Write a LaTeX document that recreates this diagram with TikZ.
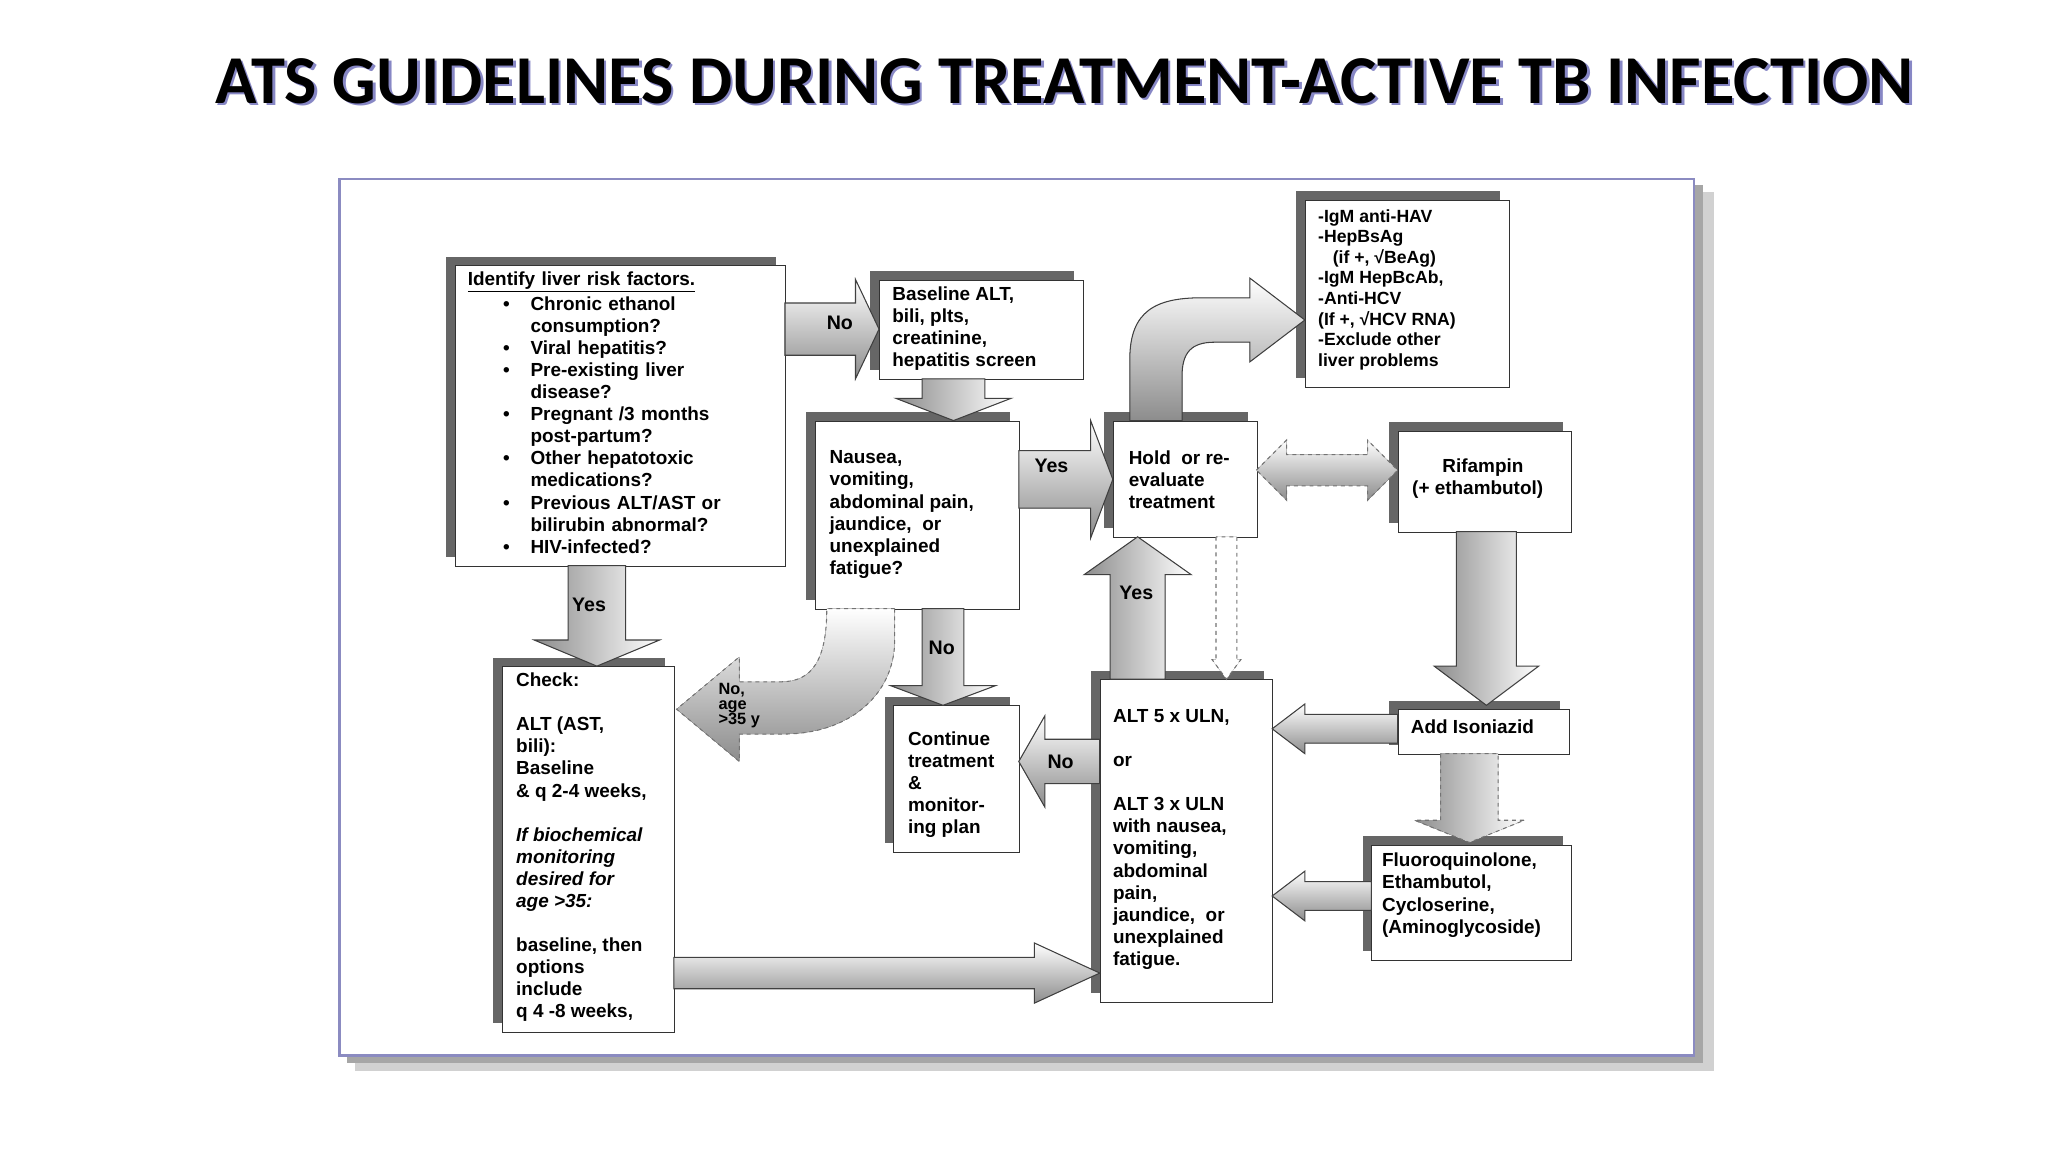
\documentclass[tikz,border=0pt]{standalone}
\usepackage{fontspec}
\setmainfont{Liberation Sans}
\newfontfamily\titlefont{Carlito}
\usetikzlibrary{shadows}
\begin{document}
\begin{tikzpicture}[x=1pt,y=-1pt,
  box/.style={draw=black!80,line width=0.8pt,fill=white,anchor=north west,inner sep=0pt,
    general shadow={fill=black!60,shadow xshift=-7pt,shadow yshift=7pt}},
  txt/.style={anchor=north west,inner sep=0pt,align=left,font=\fontsize{14.5}{16.9}\selectfont\bfseries},
  lab/.style={font=\fontsize{15}{16}\selectfont\bfseries},
  blkv/.style={draw=black!75,line width=0.8pt,left color=black!45,right color=white},
  blkh/.style={draw=black!75,line width=0.8pt,top color=white,bottom color=black!45},
  dsh/.style={dashed,draw=black!55}]
\newcommand\RA[7][]{\filldraw[blkh,#1] (#2,{#4-#5}) -- ({#3-#7},{#4-#5}) -- ({#3-#7},{#4-#6}) -- (#3,#4) -- ({#3-#7},{#4+#6}) -- ({#3-#7},{#4+#5}) -- (#2,{#4+#5}) -- cycle;}
\newcommand\DA[7][]{\filldraw[blkv,#1] ({#4-#5},#2) -- ({#4-#5},{#3-#7}) -- ({#4-#6},{#3-#7}) -- (#4,#3) -- ({#4+#6},{#3-#7}) -- ({#4+#5},{#3-#7}) -- ({#4+#5},#2) -- cycle;}
\useasboundingbox (0,0) rectangle (1568,882);
\fill[white] (0,0) rectangle (1568,882);
% title
\node[text=blue!35!gray!70] (titlesh) at (817,64) {\resizebox{1300pt}{!}{\titlefont\bfseries ATS GUIDELINES DURING TREATMENT-ACTIVE TB INFECTION}};
\node (title) at (815,62) {\resizebox{1300pt}{!}{\titlefont\bfseries ATS GUIDELINES DURING TREATMENT-ACTIVE TB INFECTION}};
% frame
\fill[black!18] (272,147) rectangle (1312,820);
\fill[black!35] (266,142) rectangle (1304,814);
\filldraw[fill=white,draw=blue!30!gray!70,line width=2pt] (260,137) rectangle (1297,808);
% boxes
\node[box,minimum width=253,minimum height=230] (risk) at (348,203) {};
\node[box,minimum width=156,minimum height=76] (base) at (673,214) {};
\node[box,minimum width=156,minimum height=144] (naus) at (624,322) {};
\node[box,minimum width=110,minimum height=89] (hold) at (852,322) {};
\node[box,minimum width=156,minimum height=143] (sero) at (999,153) {};
\node[box,minimum width=133,minimum height=77] (rif) at (1070,330) {};
\node[box,minimum width=132,minimum height=280] (check) at (384,510) {};
\node[box,minimum width=96,minimum height=112] (cont) at (684,540) {};
\node[box,minimum width=132,minimum height=247] (alt) at (842,520) {};
\node[box,minimum width=131,minimum height=34] (iso) at (1070,543) {};
\node[box,minimum width=153,minimum height=88] (fluo) at (1050,647) {};
% texts
\node[txt,text width=240pt] (risk-t) at (358,208) {\underline{Identify liver risk factors.}\\[-2pt]
\begin{list}{\textbullet}{\leftmargin=48pt\labelsep=16pt\itemsep=0pt\parsep=0pt\topsep=0pt}
\item Chronic ethanol\\consumption?
\item Viral hepatitis?
\item Pre-existing liver\\disease?
\item Pregnant /3 months\\post-partum?
\item Other hepatotoxic\\medications?
\item Previous ALT/AST or\\bilirubin abnormal?
\item HIV-infected?
\end{list}};
\node[txt] (base-t) at (683,219) {Baseline ALT,\\bili, plts,\\creatinine,\\hepatitis screen};
\node[txt] (naus-t) at (635,345) {Nausea,\\vomiting,\\abdominal pain,\\jaundice,\ \ or\\unexplained\\fatigue?};
\node[txt] (hold-t) at (864,345) {Hold\ \ or re-\\evaluate\\treatment};
\node[txt,font=\fontsize{13.5}{15.8}\selectfont\bfseries] (sero-t) at (1009,160) {-IgM anti-HAV\\-HepBsAg\\\ \ \ (if +, √BeAg)\\-IgM HepBcAb,\\-Anti-HCV\\(If +, √HCV RNA)\\-Exclude other\\liver problems};
\node[txt,align=center] (rif-t) at (1081,351) {\hspace*{8pt}Rifampin\\(+ ethambutol)};
\node[txt] (check-t) at (395,515) {Check:\\[16.9pt]ALT (AST,\\bili):\\Baseline\\\& q 2-4 weeks,\\[16.9pt]\textit{If biochemical}\\\textit{monitoring}\\\textit{desired for}\\\textit{age >35:}\\[16.9pt]baseline, then\\options\\include\\q 4 -8 weeks,};
\node[txt] (cont-t) at (695,560) {Continue\\treatment\\\&\\monitor-\\ing plan};
\node[txt] (alt-t) at (852,543) {ALT 5 x ULN,\\[16.9pt]or\\[16.9pt]ALT 3 x ULN\\with nausea,\\vomiting,\\abdominal\\pain,\\jaundice,\ \ or\\unexplained\\fatigue.};
\node[txt] (iso-t) at (1080,551) {Add Isoniazid};
\node[txt] (fluo-t) at (1058,653) {Fluoroquinolone,\\Ethambutol,\\Cycloserine,\\(Aminoglycoside)};
% block arrows
\RA{601}{673}{252}{20}{38}{18}
\DA{290}{322}{730}{24}{44}{17}
\DA{433}{510}{457}{22}{48}{20}
\RA{780}{852}{367}{22}{45}{17}
\DA{466}{540}{722}{16}{40}{15}
\RA{842}{780}{583}{17}{35}{-20}
\DA{520}{411}{871}{21}{41}{-29}
\filldraw[blkh] (865,322) -- (865,275) .. controls (865,238) and (885,228) .. (920,228) -- (957,228) -- (957,213) -- (999,245) -- (957,277) -- (957,262) -- (930,262) .. controls (912,262) and (905,270) .. (905,288) -- (905,322) -- cycle;
\filldraw[blkh,dsh] (962,360) -- (985,337) -- (985,348) -- (1047,348) -- (1047,337) -- (1070,360) -- (1047,383) -- (1047,372) -- (985,372) -- (985,383) -- cycle;
\DA[dsh,left color=white]{411}{520}{939}{8}{11}{15}
\DA{407}{540}{1138}{23}{40}{30}
\RA{1070}{974}{558}{11}{19}{-25}
\DA[dsh]{577}{645}{1125}{22}{42}{17}
\RA{1050}{974}{686}{11}{19}{-25}
\RA{516}{842}{745}{12}{23}{50}
\filldraw[blkh,dsh] (685,466) -- (685,490) .. controls (685,532) and (650,562) .. (600,562) -- (566,562) -- (566,583) -- (518,543) -- (566,503) -- (566,522) -- (598,522) .. controls (622,522) and (633,505) .. (633,466) -- cycle;
% labels
\node[lab] (l1) at (643,247) {No};
\node[lab] (l2) at (451,463) {Yes};
\node[lab] (l3) at (805,357) {Yes};
\node[lab] (l4) at (721,496) {No};
\node[lab] (l5) at (812,583) {No};
\node[lab] (l6) at (870,454) {Yes};
\node[lab,align=left,font=\fontsize{12.5}{11.5}\selectfont\bfseries] (l7) at (566,540) {No,\\age\\>35 y};
\end{tikzpicture}
\end{document}
